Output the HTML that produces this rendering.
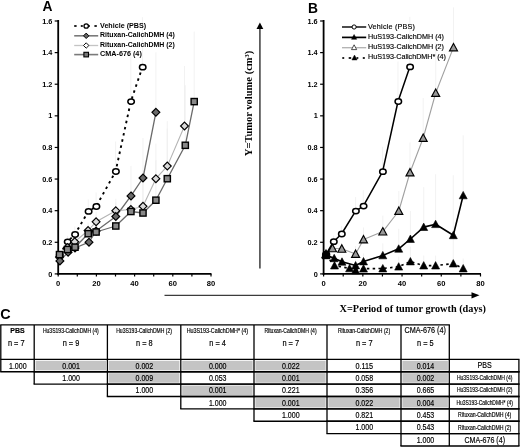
<!DOCTYPE html>
<html><head><meta charset="utf-8"><title>Tumor growth figure</title>
<style>
html,body{margin:0;padding:0;background:#fff;}
body{width:520px;height:447px;overflow:hidden;}
svg{display:block;}
</style></head><body>
<svg width="520" height="447" viewBox="0 0 520 447">
<rect width="520" height="447" fill="#fff"/>
<line x1="58.2" y1="20" x2="58.2" y2="274.8" stroke="#000" stroke-width="1.8"/>
<line x1="57.3" y1="273.9" x2="211.5" y2="273.9" stroke="#000" stroke-width="1.8"/>
<line x1="54.7" y1="273.9" x2="58.2" y2="273.9" stroke="#000" stroke-width="1.2"/>
<text x="52.3" y="276.5" font-family="'Liberation Sans', sans-serif" font-size="7.3" font-weight="bold" text-anchor="end" fill="#000">0</text>
<line x1="54.7" y1="242.29" x2="58.2" y2="242.29" stroke="#000" stroke-width="1.2"/>
<text x="52.3" y="244.89" font-family="'Liberation Sans', sans-serif" font-size="7.3" font-weight="bold" text-anchor="end" fill="#000">0.2</text>
<line x1="54.7" y1="210.67" x2="58.2" y2="210.67" stroke="#000" stroke-width="1.2"/>
<text x="52.3" y="213.27" font-family="'Liberation Sans', sans-serif" font-size="7.3" font-weight="bold" text-anchor="end" fill="#000">0.4</text>
<line x1="54.7" y1="179.06" x2="58.2" y2="179.06" stroke="#000" stroke-width="1.2"/>
<text x="52.3" y="181.66" font-family="'Liberation Sans', sans-serif" font-size="7.3" font-weight="bold" text-anchor="end" fill="#000">0.6</text>
<line x1="54.7" y1="147.45" x2="58.2" y2="147.45" stroke="#000" stroke-width="1.2"/>
<text x="52.3" y="150.05" font-family="'Liberation Sans', sans-serif" font-size="7.3" font-weight="bold" text-anchor="end" fill="#000">0.8</text>
<line x1="54.7" y1="115.84" x2="58.2" y2="115.84" stroke="#000" stroke-width="1.2"/>
<text x="52.3" y="118.44" font-family="'Liberation Sans', sans-serif" font-size="7.3" font-weight="bold" text-anchor="end" fill="#000">1</text>
<line x1="54.7" y1="84.22" x2="58.2" y2="84.22" stroke="#000" stroke-width="1.2"/>
<text x="52.3" y="86.82" font-family="'Liberation Sans', sans-serif" font-size="7.3" font-weight="bold" text-anchor="end" fill="#000">1.2</text>
<line x1="54.7" y1="52.61" x2="58.2" y2="52.61" stroke="#000" stroke-width="1.2"/>
<text x="52.3" y="55.21" font-family="'Liberation Sans', sans-serif" font-size="7.3" font-weight="bold" text-anchor="end" fill="#000">1.4</text>
<line x1="54.7" y1="21" x2="58.2" y2="21" stroke="#000" stroke-width="1.2"/>
<text x="52.3" y="23.6" font-family="'Liberation Sans', sans-serif" font-size="7.3" font-weight="bold" text-anchor="end" fill="#000">1.6</text>
<line x1="58.2" y1="273.9" x2="58.2" y2="276.5" stroke="#000" stroke-width="1.2"/>
<text x="58.2" y="286.4" font-family="'Liberation Sans', sans-serif" font-size="7.6" font-weight="bold" text-anchor="middle" fill="#000">0</text>
<line x1="77.3" y1="273.9" x2="77.3" y2="276.5" stroke="#000" stroke-width="1.2"/>
<line x1="96.4" y1="273.9" x2="96.4" y2="276.5" stroke="#000" stroke-width="1.2"/>
<text x="96.4" y="286.4" font-family="'Liberation Sans', sans-serif" font-size="7.6" font-weight="bold" text-anchor="middle" fill="#000">20</text>
<line x1="115.5" y1="273.9" x2="115.5" y2="276.5" stroke="#000" stroke-width="1.2"/>
<line x1="134.6" y1="273.9" x2="134.6" y2="276.5" stroke="#000" stroke-width="1.2"/>
<text x="134.6" y="286.4" font-family="'Liberation Sans', sans-serif" font-size="7.6" font-weight="bold" text-anchor="middle" fill="#000">40</text>
<line x1="153.7" y1="273.9" x2="153.7" y2="276.5" stroke="#000" stroke-width="1.2"/>
<line x1="172.8" y1="273.9" x2="172.8" y2="276.5" stroke="#000" stroke-width="1.2"/>
<text x="172.8" y="286.4" font-family="'Liberation Sans', sans-serif" font-size="7.6" font-weight="bold" text-anchor="middle" fill="#000">60</text>
<line x1="191.9" y1="273.9" x2="191.9" y2="276.5" stroke="#000" stroke-width="1.2"/>
<line x1="211" y1="273.9" x2="211" y2="276.5" stroke="#000" stroke-width="1.2"/>
<text x="211" y="286.4" font-family="'Liberation Sans', sans-serif" font-size="7.6" font-weight="bold" text-anchor="middle" fill="#000">80</text>
<line x1="323.6" y1="20" x2="323.6" y2="274.8" stroke="#000" stroke-width="1.8"/>
<line x1="322.7" y1="273.9" x2="481" y2="273.9" stroke="#000" stroke-width="1.8"/>
<line x1="320.1" y1="273.9" x2="323.6" y2="273.9" stroke="#000" stroke-width="1.2"/>
<text x="317.7" y="276.5" font-family="'Liberation Sans', sans-serif" font-size="7.3" font-weight="bold" text-anchor="end" fill="#000">0</text>
<line x1="320.1" y1="242.29" x2="323.6" y2="242.29" stroke="#000" stroke-width="1.2"/>
<text x="317.7" y="244.89" font-family="'Liberation Sans', sans-serif" font-size="7.3" font-weight="bold" text-anchor="end" fill="#000">0.2</text>
<line x1="320.1" y1="210.67" x2="323.6" y2="210.67" stroke="#000" stroke-width="1.2"/>
<text x="317.7" y="213.27" font-family="'Liberation Sans', sans-serif" font-size="7.3" font-weight="bold" text-anchor="end" fill="#000">0.4</text>
<line x1="320.1" y1="179.06" x2="323.6" y2="179.06" stroke="#000" stroke-width="1.2"/>
<text x="317.7" y="181.66" font-family="'Liberation Sans', sans-serif" font-size="7.3" font-weight="bold" text-anchor="end" fill="#000">0.6</text>
<line x1="320.1" y1="147.45" x2="323.6" y2="147.45" stroke="#000" stroke-width="1.2"/>
<text x="317.7" y="150.05" font-family="'Liberation Sans', sans-serif" font-size="7.3" font-weight="bold" text-anchor="end" fill="#000">0.8</text>
<line x1="320.1" y1="115.84" x2="323.6" y2="115.84" stroke="#000" stroke-width="1.2"/>
<text x="317.7" y="118.44" font-family="'Liberation Sans', sans-serif" font-size="7.3" font-weight="bold" text-anchor="end" fill="#000">1</text>
<line x1="320.1" y1="84.22" x2="323.6" y2="84.22" stroke="#000" stroke-width="1.2"/>
<text x="317.7" y="86.82" font-family="'Liberation Sans', sans-serif" font-size="7.3" font-weight="bold" text-anchor="end" fill="#000">1.2</text>
<line x1="320.1" y1="52.61" x2="323.6" y2="52.61" stroke="#000" stroke-width="1.2"/>
<text x="317.7" y="55.21" font-family="'Liberation Sans', sans-serif" font-size="7.3" font-weight="bold" text-anchor="end" fill="#000">1.4</text>
<line x1="320.1" y1="21" x2="323.6" y2="21" stroke="#000" stroke-width="1.2"/>
<text x="317.7" y="23.6" font-family="'Liberation Sans', sans-serif" font-size="7.3" font-weight="bold" text-anchor="end" fill="#000">1.6</text>
<line x1="323.6" y1="273.9" x2="323.6" y2="276.5" stroke="#000" stroke-width="1.2"/>
<text x="323.6" y="286.4" font-family="'Liberation Sans', sans-serif" font-size="7.6" font-weight="bold" text-anchor="middle" fill="#000">0</text>
<line x1="343.21" y1="273.9" x2="343.21" y2="276.5" stroke="#000" stroke-width="1.2"/>
<line x1="362.83" y1="273.9" x2="362.83" y2="276.5" stroke="#000" stroke-width="1.2"/>
<text x="362.83" y="286.4" font-family="'Liberation Sans', sans-serif" font-size="7.6" font-weight="bold" text-anchor="middle" fill="#000">20</text>
<line x1="382.44" y1="273.9" x2="382.44" y2="276.5" stroke="#000" stroke-width="1.2"/>
<line x1="402.05" y1="273.9" x2="402.05" y2="276.5" stroke="#000" stroke-width="1.2"/>
<text x="402.05" y="286.4" font-family="'Liberation Sans', sans-serif" font-size="7.6" font-weight="bold" text-anchor="middle" fill="#000">40</text>
<line x1="421.66" y1="273.9" x2="421.66" y2="276.5" stroke="#000" stroke-width="1.2"/>
<line x1="441.27" y1="273.9" x2="441.27" y2="276.5" stroke="#000" stroke-width="1.2"/>
<text x="441.27" y="286.4" font-family="'Liberation Sans', sans-serif" font-size="7.6" font-weight="bold" text-anchor="middle" fill="#000">60</text>
<line x1="460.89" y1="273.9" x2="460.89" y2="276.5" stroke="#000" stroke-width="1.2"/>
<line x1="480.5" y1="273.9" x2="480.5" y2="276.5" stroke="#000" stroke-width="1.2"/>
<text x="480.5" y="286.4" font-family="'Liberation Sans', sans-serif" font-size="7.6" font-weight="bold" text-anchor="middle" fill="#000">80</text>
<text x="42.6" y="10.5" font-family="'Liberation Sans', sans-serif" font-size="13.8" font-weight="bold" text-anchor="start" fill="#000">A</text>
<text x="308.1" y="13.1" font-family="'Liberation Sans', sans-serif" font-size="13.8" font-weight="bold" text-anchor="start" fill="#000">B</text>
<text x="0.2" y="319.2" font-family="'Liberation Sans', sans-serif" font-size="14.4" font-weight="bold" text-anchor="start" fill="#000">C</text>
<line x1="67.4" y1="241.8" x2="67.4" y2="235.8" stroke="#ededed" stroke-width="0.7"/>
<line x1="74.8" y1="234.5" x2="74.8" y2="226.5" stroke="#ededed" stroke-width="0.7"/>
<line x1="88.3" y1="211.4" x2="88.3" y2="199.4" stroke="#ededed" stroke-width="0.7"/>
<line x1="96.1" y1="206.5" x2="96.1" y2="192.5" stroke="#ededed" stroke-width="0.7"/>
<line x1="115.6" y1="171.5" x2="115.6" y2="141.5" stroke="#ededed" stroke-width="0.7"/>
<line x1="130.8" y1="101.6" x2="130.8" y2="56.6" stroke="#ededed" stroke-width="0.7"/>
<line x1="142.4" y1="67.2" x2="142.4" y2="17.2" stroke="#ededed" stroke-width="0.7"/>
<line x1="68.1" y1="252.2" x2="68.1" y2="248.2" stroke="#ededed" stroke-width="0.7"/>
<line x1="75" y1="248" x2="75" y2="244" stroke="#ededed" stroke-width="0.7"/>
<line x1="89" y1="242.2" x2="89" y2="234.2" stroke="#ededed" stroke-width="0.7"/>
<line x1="96.1" y1="231" x2="96.1" y2="221" stroke="#ededed" stroke-width="0.7"/>
<line x1="115.8" y1="216.5" x2="115.8" y2="202.5" stroke="#ededed" stroke-width="0.7"/>
<line x1="131" y1="195.9" x2="131" y2="165.9" stroke="#ededed" stroke-width="0.7"/>
<line x1="143" y1="178" x2="143" y2="138" stroke="#ededed" stroke-width="0.7"/>
<line x1="155.9" y1="112.3" x2="155.9" y2="52.3" stroke="#ededed" stroke-width="0.7"/>
<line x1="67.5" y1="247.5" x2="67.5" y2="243.5" stroke="#ededed" stroke-width="0.7"/>
<line x1="74.7" y1="241.8" x2="74.7" y2="236.8" stroke="#ededed" stroke-width="0.7"/>
<line x1="88.1" y1="230.5" x2="88.1" y2="222.5" stroke="#ededed" stroke-width="0.7"/>
<line x1="96.1" y1="221.8" x2="96.1" y2="211.8" stroke="#ededed" stroke-width="0.7"/>
<line x1="115.8" y1="210.7" x2="115.8" y2="198.7" stroke="#ededed" stroke-width="0.7"/>
<line x1="130.9" y1="209.5" x2="130.9" y2="195.5" stroke="#ededed" stroke-width="0.7"/>
<line x1="143" y1="206.3" x2="143" y2="176.3" stroke="#ededed" stroke-width="0.7"/>
<line x1="155.9" y1="178.7" x2="155.9" y2="143.7" stroke="#ededed" stroke-width="0.7"/>
<line x1="167.3" y1="166.1" x2="167.3" y2="121.1" stroke="#ededed" stroke-width="0.7"/>
<line x1="184.5" y1="126" x2="184.5" y2="66" stroke="#ededed" stroke-width="0.7"/>
<line x1="67.5" y1="249.5" x2="67.5" y2="245.5" stroke="#ededed" stroke-width="0.7"/>
<line x1="75" y1="247.2" x2="75" y2="242.2" stroke="#ededed" stroke-width="0.7"/>
<line x1="88.2" y1="233.7" x2="88.2" y2="225.7" stroke="#ededed" stroke-width="0.7"/>
<line x1="96.1" y1="232" x2="96.1" y2="222" stroke="#ededed" stroke-width="0.7"/>
<line x1="115.8" y1="226" x2="115.8" y2="214" stroke="#ededed" stroke-width="0.7"/>
<line x1="130.9" y1="211.5" x2="130.9" y2="191.5" stroke="#ededed" stroke-width="0.7"/>
<line x1="143" y1="213" x2="143" y2="183" stroke="#ededed" stroke-width="0.7"/>
<line x1="155.9" y1="200.2" x2="155.9" y2="160.2" stroke="#ededed" stroke-width="0.7"/>
<line x1="167.3" y1="178.7" x2="167.3" y2="128.7" stroke="#ededed" stroke-width="0.7"/>
<line x1="185.3" y1="145.3" x2="185.3" y2="85.3" stroke="#ededed" stroke-width="0.7"/>
<line x1="194.2" y1="101.6" x2="194.2" y2="31.6" stroke="#ededed" stroke-width="0.7"/>
<polyline points="59.5,255 67.4,241.8 74.8,234.5 88.3,211.4 96.1,206.5 115.6,171.5 130.8,101.6 142.4,67.2" fill="none" stroke="#000" stroke-width="1.9" stroke-dasharray="2.5 3.8" stroke-linejoin="round" stroke-linecap="butt"/>
<polyline points="59.9,260.9 68.1,252.2 75,248 89,242.2 96.1,231 115.8,216.5 131,195.9 143,178 155.9,112.3" fill="none" stroke="#6a6a6a" stroke-width="1.3" stroke-linejoin="round"/>
<polyline points="59.5,257 67.5,247.5 74.7,241.8 88.1,230.5 96.1,221.8 115.8,210.7 130.9,209.5 143,206.3 155.9,178.7 167.3,166.1 184.5,126" fill="none" stroke="#b4b4b4" stroke-width="1.1" stroke-linejoin="round"/>
<polyline points="59.5,254.6 67.5,249.5 75,247.2 88.2,233.7 96.1,232 115.8,226 130.9,211.5 143,213 155.9,200.2 167.3,178.7 185.3,145.3 194.2,101.6" fill="none" stroke="#6a6a6a" stroke-width="1.3" stroke-linejoin="round"/>
<ellipse cx="59.8" cy="255" rx="3.25" ry="2.65" fill="#fff" stroke="#000" stroke-width="1.5"/>
<ellipse cx="67.7" cy="241.8" rx="3.25" ry="2.65" fill="#fff" stroke="#000" stroke-width="1.5"/>
<ellipse cx="75.1" cy="234.5" rx="3.25" ry="2.65" fill="#fff" stroke="#000" stroke-width="1.5"/>
<ellipse cx="88.6" cy="211.4" rx="3.25" ry="2.65" fill="#fff" stroke="#000" stroke-width="1.5"/>
<ellipse cx="96.4" cy="206.5" rx="3.25" ry="2.65" fill="#fff" stroke="#000" stroke-width="1.5"/>
<ellipse cx="115.9" cy="171.5" rx="3.25" ry="2.65" fill="#fff" stroke="#000" stroke-width="1.5"/>
<ellipse cx="131.1" cy="101.6" rx="3.25" ry="2.65" fill="#fff" stroke="#000" stroke-width="1.5"/>
<ellipse cx="142.7" cy="67.2" rx="3.25" ry="2.65" fill="#fff" stroke="#000" stroke-width="1.5"/>
<polygon points="59.5,253.1 63.4,257 59.5,260.9 55.6,257" fill="#dadada" stroke="#000" stroke-width="1.2"/>
<polygon points="67.5,243.6 71.4,247.5 67.5,251.4 63.6,247.5" fill="#dadada" stroke="#000" stroke-width="1.2"/>
<polygon points="74.7,237.9 78.6,241.8 74.7,245.7 70.8,241.8" fill="#dadada" stroke="#000" stroke-width="1.2"/>
<polygon points="88.1,226.6 92,230.5 88.1,234.4 84.2,230.5" fill="#dadada" stroke="#000" stroke-width="1.2"/>
<polygon points="96.1,217.9 100,221.8 96.1,225.7 92.2,221.8" fill="#dadada" stroke="#000" stroke-width="1.2"/>
<polygon points="115.8,206.8 119.7,210.7 115.8,214.6 111.9,210.7" fill="#dadada" stroke="#000" stroke-width="1.2"/>
<polygon points="130.9,205.6 134.8,209.5 130.9,213.4 127,209.5" fill="#dadada" stroke="#000" stroke-width="1.2"/>
<polygon points="143,202.4 146.9,206.3 143,210.2 139.1,206.3" fill="#dadada" stroke="#000" stroke-width="1.2"/>
<polygon points="155.9,174.8 159.8,178.7 155.9,182.6 152,178.7" fill="#dadada" stroke="#000" stroke-width="1.2"/>
<polygon points="167.3,162.2 171.2,166.1 167.3,170 163.4,166.1" fill="#dadada" stroke="#000" stroke-width="1.2"/>
<polygon points="184.5,122.1 188.4,126 184.5,129.9 180.6,126" fill="#dadada" stroke="#000" stroke-width="1.2"/>
<polygon points="59.9,257 63.8,260.9 59.9,264.8 56,260.9" fill="#6a6a6a" stroke="#000" stroke-width="1.2"/>
<polygon points="68.1,248.3 72,252.2 68.1,256.1 64.2,252.2" fill="#6a6a6a" stroke="#000" stroke-width="1.2"/>
<polygon points="75,244.1 78.9,248 75,251.9 71.1,248" fill="#6a6a6a" stroke="#000" stroke-width="1.2"/>
<polygon points="89,238.3 92.9,242.2 89,246.1 85.1,242.2" fill="#6a6a6a" stroke="#000" stroke-width="1.2"/>
<polygon points="96.1,227.1 100,231 96.1,234.9 92.2,231" fill="#6a6a6a" stroke="#000" stroke-width="1.2"/>
<polygon points="115.8,212.6 119.7,216.5 115.8,220.4 111.9,216.5" fill="#6a6a6a" stroke="#000" stroke-width="1.2"/>
<polygon points="131,192 134.9,195.9 131,199.8 127.1,195.9" fill="#6a6a6a" stroke="#000" stroke-width="1.2"/>
<polygon points="143,174.1 146.9,178 143,181.9 139.1,178" fill="#6a6a6a" stroke="#000" stroke-width="1.2"/>
<polygon points="155.9,108.4 159.8,112.3 155.9,116.2 152,112.3" fill="#6a6a6a" stroke="#000" stroke-width="1.2"/>
<rect x="56.4" y="251.5" width="6.2" height="6.2" fill="#888" stroke="#000" stroke-width="1.4"/>
<rect x="64.4" y="246.4" width="6.2" height="6.2" fill="#888" stroke="#000" stroke-width="1.4"/>
<rect x="71.9" y="244.1" width="6.2" height="6.2" fill="#888" stroke="#000" stroke-width="1.4"/>
<rect x="85.1" y="230.6" width="6.2" height="6.2" fill="#888" stroke="#000" stroke-width="1.4"/>
<rect x="93" y="228.9" width="6.2" height="6.2" fill="#888" stroke="#000" stroke-width="1.4"/>
<rect x="112.7" y="222.9" width="6.2" height="6.2" fill="#888" stroke="#000" stroke-width="1.4"/>
<rect x="127.8" y="208.4" width="6.2" height="6.2" fill="#888" stroke="#000" stroke-width="1.4"/>
<rect x="139.9" y="209.9" width="6.2" height="6.2" fill="#888" stroke="#000" stroke-width="1.4"/>
<rect x="152.8" y="197.1" width="6.2" height="6.2" fill="#888" stroke="#000" stroke-width="1.4"/>
<rect x="164.2" y="175.6" width="6.2" height="6.2" fill="#888" stroke="#000" stroke-width="1.4"/>
<rect x="182.2" y="142.2" width="6.2" height="6.2" fill="#888" stroke="#000" stroke-width="1.4"/>
<rect x="191.1" y="98.5" width="6.2" height="6.2" fill="#888" stroke="#000" stroke-width="1.4"/>
<line x1="74.2" y1="26" x2="76.6" y2="26" stroke="#000" stroke-width="1.7"/>
<line x1="80.8" y1="26" x2="82.8" y2="26" stroke="#000" stroke-width="1.7"/>
<line x1="88.2" y1="26" x2="90" y2="26" stroke="#000" stroke-width="1.7"/>
<line x1="94.4" y1="26" x2="96.8" y2="26" stroke="#000" stroke-width="1.7"/>
<circle cx="86.2" cy="26" r="2.2" fill="#fff" stroke="#000" stroke-width="1.3"/>
<line x1="74.2" y1="35.8" x2="98.2" y2="35.8" stroke="#7a7a7a" stroke-width="1.6"/>
<polygon points="86.2,33.1 88.9,35.8 86.2,38.5 83.5,35.8" fill="#666" stroke="#000" stroke-width="1.0"/>
<line x1="74.2" y1="45.5" x2="98.2" y2="45.5" stroke="#c4c4c4" stroke-width="1.3"/>
<polygon points="86.2,42.8 88.9,45.5 86.2,48.2 83.5,45.5" fill="#fff" stroke="#111" stroke-width="1.0"/>
<line x1="74.2" y1="54.6" x2="98.2" y2="54.6" stroke="#7a7a7a" stroke-width="1.6"/>
<rect x="83.9" y="52.3" width="4.6" height="4.6" fill="#777" stroke="#000" stroke-width="1.1"/>
<text x="100" y="28.4" font-family="'Liberation Sans', sans-serif" font-size="7.1" font-weight="bold" text-anchor="start" fill="#000" textLength="46.2" lengthAdjust="spacingAndGlyphs">Vehicle (PBS)</text>
<text x="100" y="36.9" font-family="'Liberation Sans', sans-serif" font-size="7.1" font-weight="bold" text-anchor="start" fill="#000" textLength="74.8" lengthAdjust="spacingAndGlyphs">Rituxan-CalichDMH (4)</text>
<text x="100" y="46.5" font-family="'Liberation Sans', sans-serif" font-size="7.1" font-weight="bold" text-anchor="start" fill="#000" textLength="74.8" lengthAdjust="spacingAndGlyphs">Rituxan-CalichDMH (2)</text>
<text x="100" y="56.4" font-family="'Liberation Sans', sans-serif" font-size="7.1" font-weight="bold" text-anchor="start" fill="#000" textLength="41.8" lengthAdjust="spacingAndGlyphs">CMA-676 (4)</text>
<line x1="333.5" y1="241.7" x2="333.5" y2="235.7" stroke="#ededed" stroke-width="0.7"/>
<line x1="341.5" y1="234" x2="341.5" y2="226" stroke="#ededed" stroke-width="0.7"/>
<line x1="355.6" y1="211.1" x2="355.6" y2="197.1" stroke="#ededed" stroke-width="0.7"/>
<line x1="363.3" y1="206.1" x2="363.3" y2="190.1" stroke="#ededed" stroke-width="0.7"/>
<line x1="382.6" y1="171.7" x2="382.6" y2="146.7" stroke="#ededed" stroke-width="0.7"/>
<line x1="398" y1="101.5" x2="398" y2="61.5" stroke="#ededed" stroke-width="0.7"/>
<line x1="409.8" y1="66.9" x2="409.8" y2="16.9" stroke="#ededed" stroke-width="0.7"/>
<line x1="332.5" y1="248.3" x2="332.5" y2="244.3" stroke="#ededed" stroke-width="0.7"/>
<line x1="341.8" y1="248.8" x2="341.8" y2="243.8" stroke="#ededed" stroke-width="0.7"/>
<line x1="355.6" y1="254" x2="355.6" y2="246" stroke="#ededed" stroke-width="0.7"/>
<line x1="363.5" y1="239.5" x2="363.5" y2="227.5" stroke="#ededed" stroke-width="0.7"/>
<line x1="382.8" y1="231.6" x2="382.8" y2="215.6" stroke="#ededed" stroke-width="0.7"/>
<line x1="398.8" y1="211" x2="398.8" y2="191" stroke="#ededed" stroke-width="0.7"/>
<line x1="410" y1="172.5" x2="410" y2="142.5" stroke="#ededed" stroke-width="0.7"/>
<line x1="423.2" y1="138" x2="423.2" y2="98" stroke="#ededed" stroke-width="0.7"/>
<line x1="435.7" y1="93" x2="435.7" y2="43" stroke="#ededed" stroke-width="0.7"/>
<line x1="453.5" y1="47.4" x2="453.5" y2="7.4" stroke="#ededed" stroke-width="0.7"/>
<line x1="334.2" y1="258.3" x2="334.2" y2="254.3" stroke="#ededed" stroke-width="0.7"/>
<line x1="342" y1="261.8" x2="342" y2="257.8" stroke="#ededed" stroke-width="0.7"/>
<line x1="355.6" y1="265.5" x2="355.6" y2="259.5" stroke="#ededed" stroke-width="0.7"/>
<line x1="363.5" y1="261.5" x2="363.5" y2="253.5" stroke="#ededed" stroke-width="0.7"/>
<line x1="382.8" y1="255.4" x2="382.8" y2="243.4" stroke="#ededed" stroke-width="0.7"/>
<line x1="398.7" y1="248.8" x2="398.7" y2="228.8" stroke="#ededed" stroke-width="0.7"/>
<line x1="410.4" y1="239" x2="410.4" y2="211" stroke="#ededed" stroke-width="0.7"/>
<line x1="423.7" y1="227.1" x2="423.7" y2="187.1" stroke="#ededed" stroke-width="0.7"/>
<line x1="435.6" y1="224.2" x2="435.6" y2="174.2" stroke="#ededed" stroke-width="0.7"/>
<line x1="453.3" y1="235.3" x2="453.3" y2="175.3" stroke="#ededed" stroke-width="0.7"/>
<line x1="463.2" y1="195.4" x2="463.2" y2="135.4" stroke="#ededed" stroke-width="0.7"/>
<line x1="363.5" y1="268.7" x2="363.5" y2="264.7" stroke="#ededed" stroke-width="0.7"/>
<line x1="382.8" y1="268.5" x2="382.8" y2="264.5" stroke="#ededed" stroke-width="0.7"/>
<line x1="398.7" y1="266.7" x2="398.7" y2="256.7" stroke="#ededed" stroke-width="0.7"/>
<line x1="410.4" y1="261.5" x2="410.4" y2="246.5" stroke="#ededed" stroke-width="0.7"/>
<line x1="423.7" y1="265.6" x2="423.7" y2="255.6" stroke="#ededed" stroke-width="0.7"/>
<line x1="435.6" y1="265.6" x2="435.6" y2="255.6" stroke="#ededed" stroke-width="0.7"/>
<line x1="453.3" y1="263.6" x2="453.3" y2="238.6" stroke="#ededed" stroke-width="0.7"/>
<line x1="463.2" y1="268.5" x2="463.2" y2="258.5" stroke="#ededed" stroke-width="0.7"/>
<polyline points="326,254 332.5,248.3 341.8,248.8 355.6,254 363.5,239.5 382.8,231.6 398.8,211 410,172.5 423.2,138 435.7,93 453.5,47.4" fill="none" stroke="#a0a0a0" stroke-width="1.1" stroke-linejoin="round"/>
<polyline points="326,254.5 333.5,241.7 341.5,234 355.6,211.1 363.3,206.1 382.6,171.7 398,101.5 409.8,66.9" fill="none" stroke="#000" stroke-width="1.5" stroke-linejoin="round"/>
<polyline points="326,255.4 334.5,265.6 349.6,268.4 355.6,270.4 363.5,268.7 382.8,268.5 398.7,266.7 410.4,261.5 423.7,265.6 435.6,265.6 453.3,263.6 463.2,268.5" fill="none" stroke="#000" stroke-width="1.6" stroke-dasharray="2.5 3.3" stroke-linejoin="round"/>
<polyline points="326,255 334.2,258.3 342,261.8 355.6,265.5 363.5,261.5 382.8,255.4 398.7,248.8 410.4,239 423.7,227.1 435.6,224.2 453.3,235.3 463.2,195.4" fill="none" stroke="#000" stroke-width="1.6" stroke-linejoin="round"/>
<ellipse cx="326.3" cy="254.5" rx="3.25" ry="2.65" fill="#fff" stroke="#000" stroke-width="1.5"/>
<ellipse cx="333.8" cy="241.7" rx="3.25" ry="2.65" fill="#fff" stroke="#000" stroke-width="1.5"/>
<ellipse cx="341.8" cy="234" rx="3.25" ry="2.65" fill="#fff" stroke="#000" stroke-width="1.5"/>
<ellipse cx="355.9" cy="211.1" rx="3.25" ry="2.65" fill="#fff" stroke="#000" stroke-width="1.5"/>
<ellipse cx="363.6" cy="206.1" rx="3.25" ry="2.65" fill="#fff" stroke="#000" stroke-width="1.5"/>
<ellipse cx="382.9" cy="171.7" rx="3.25" ry="2.65" fill="#fff" stroke="#000" stroke-width="1.5"/>
<ellipse cx="398.3" cy="101.5" rx="3.25" ry="2.65" fill="#fff" stroke="#000" stroke-width="1.5"/>
<ellipse cx="410.1" cy="66.9" rx="3.25" ry="2.65" fill="#fff" stroke="#000" stroke-width="1.5"/>
<polygon points="326,250 330,257.4 322,257.4" fill="#999" stroke="#000" stroke-width="1.15" stroke-linejoin="miter"/>
<polygon points="332.5,244.3 336.5,251.7 328.5,251.7" fill="#999" stroke="#000" stroke-width="1.15" stroke-linejoin="miter"/>
<polygon points="341.8,244.8 345.8,252.2 337.8,252.2" fill="#999" stroke="#000" stroke-width="1.15" stroke-linejoin="miter"/>
<polygon points="355.6,250 359.6,257.4 351.6,257.4" fill="#999" stroke="#000" stroke-width="1.15" stroke-linejoin="miter"/>
<polygon points="363.5,235.5 367.5,242.9 359.5,242.9" fill="#999" stroke="#000" stroke-width="1.15" stroke-linejoin="miter"/>
<polygon points="382.8,227.6 386.8,235 378.8,235" fill="#999" stroke="#000" stroke-width="1.15" stroke-linejoin="miter"/>
<polygon points="398.8,207 402.8,214.4 394.8,214.4" fill="#999" stroke="#000" stroke-width="1.15" stroke-linejoin="miter"/>
<polygon points="410,168.5 414,175.9 406,175.9" fill="#999" stroke="#000" stroke-width="1.15" stroke-linejoin="miter"/>
<polygon points="423.2,134 427.2,141.4 419.2,141.4" fill="#999" stroke="#000" stroke-width="1.15" stroke-linejoin="miter"/>
<polygon points="435.7,89 439.7,96.4 431.7,96.4" fill="#999" stroke="#000" stroke-width="1.15" stroke-linejoin="miter"/>
<polygon points="453.5,43.4 457.5,50.8 449.5,50.8" fill="#999" stroke="#000" stroke-width="1.15" stroke-linejoin="miter"/>
<polygon points="326,251 330,258.4 322,258.4" fill="#000" stroke="#000" stroke-width="0.6" stroke-linejoin="miter"/>
<polygon points="334.2,254.3 338.2,261.7 330.2,261.7" fill="#000" stroke="#000" stroke-width="0.6" stroke-linejoin="miter"/>
<polygon points="342,257.8 346,265.2 338,265.2" fill="#000" stroke="#000" stroke-width="0.6" stroke-linejoin="miter"/>
<polygon points="355.6,261.5 359.6,268.9 351.6,268.9" fill="#000" stroke="#000" stroke-width="0.6" stroke-linejoin="miter"/>
<polygon points="363.5,257.5 367.5,264.9 359.5,264.9" fill="#000" stroke="#000" stroke-width="0.6" stroke-linejoin="miter"/>
<polygon points="382.8,251.4 386.8,258.8 378.8,258.8" fill="#000" stroke="#000" stroke-width="0.6" stroke-linejoin="miter"/>
<polygon points="398.7,244.8 402.7,252.2 394.7,252.2" fill="#000" stroke="#000" stroke-width="0.6" stroke-linejoin="miter"/>
<polygon points="410.4,235 414.4,242.4 406.4,242.4" fill="#000" stroke="#000" stroke-width="0.6" stroke-linejoin="miter"/>
<polygon points="423.7,223.1 427.7,230.5 419.7,230.5" fill="#000" stroke="#000" stroke-width="0.6" stroke-linejoin="miter"/>
<polygon points="435.6,220.2 439.6,227.6 431.6,227.6" fill="#000" stroke="#000" stroke-width="0.6" stroke-linejoin="miter"/>
<polygon points="453.3,231.3 457.3,238.7 449.3,238.7" fill="#000" stroke="#000" stroke-width="0.6" stroke-linejoin="miter"/>
<polygon points="463.2,191.4 467.2,198.8 459.2,198.8" fill="#000" stroke="#000" stroke-width="0.6" stroke-linejoin="miter"/>
<polygon points="326,251.4 330,258.8 322,258.8" fill="#000" stroke="#000" stroke-width="0.6" stroke-linejoin="miter"/>
<polygon points="334.5,261.6 338.5,269 330.5,269" fill="#000" stroke="#000" stroke-width="0.6" stroke-linejoin="miter"/>
<polygon points="349.6,264.4 353.6,271.8 345.6,271.8" fill="#000" stroke="#000" stroke-width="0.6" stroke-linejoin="miter"/>
<polygon points="355.6,266.4 359.6,273.8 351.6,273.8" fill="#000" stroke="#000" stroke-width="0.6" stroke-linejoin="miter"/>
<polygon points="363.5,264.7 367.5,272.1 359.5,272.1" fill="#000" stroke="#000" stroke-width="0.6" stroke-linejoin="miter"/>
<polygon points="382.8,264.5 386.8,271.9 378.8,271.9" fill="#000" stroke="#000" stroke-width="0.6" stroke-linejoin="miter"/>
<polygon points="398.7,262.7 402.7,270.1 394.7,270.1" fill="#000" stroke="#000" stroke-width="0.6" stroke-linejoin="miter"/>
<polygon points="410.4,257.5 414.4,264.9 406.4,264.9" fill="#000" stroke="#000" stroke-width="0.6" stroke-linejoin="miter"/>
<polygon points="423.7,261.6 427.7,269 419.7,269" fill="#000" stroke="#000" stroke-width="0.6" stroke-linejoin="miter"/>
<polygon points="435.6,261.6 439.6,269 431.6,269" fill="#000" stroke="#000" stroke-width="0.6" stroke-linejoin="miter"/>
<polygon points="453.3,259.6 457.3,267 449.3,267" fill="#000" stroke="#000" stroke-width="0.6" stroke-linejoin="miter"/>
<polygon points="463.2,264.5 467.2,271.9 459.2,271.9" fill="#000" stroke="#000" stroke-width="0.6" stroke-linejoin="miter"/>
<circle cx="326" cy="255" r="3.7" fill="#000" stroke="#000" stroke-width="0.8"/>
<line x1="342" y1="27" x2="366.2" y2="27" stroke="#000" stroke-width="1.4"/>
<circle cx="354.1" cy="27" r="2.1" fill="#fff" stroke="#000" stroke-width="1.0"/>
<line x1="342" y1="37.4" x2="366.2" y2="37.4" stroke="#000" stroke-width="1.7"/>
<polygon points="354.1,34.5 356.7,39.31 351.5,39.31" fill="#000" stroke="#000" stroke-width="0.5" stroke-linejoin="miter"/>
<line x1="342" y1="47.7" x2="366.2" y2="47.7" stroke="#b0b0b0" stroke-width="1.3"/>
<polygon points="354.1,44.8 356.7,49.61 351.5,49.61" fill="#fff" stroke="#222" stroke-width="0.8" stroke-linejoin="miter"/>
<line x1="342.3" y1="58" x2="344.2" y2="58" stroke="#000" stroke-width="1.7"/>
<line x1="348.7" y1="58" x2="351.2" y2="58" stroke="#000" stroke-width="1.7"/>
<line x1="356.5" y1="58" x2="358.3" y2="58" stroke="#000" stroke-width="1.7"/>
<line x1="362.8" y1="58" x2="364.8" y2="58" stroke="#000" stroke-width="1.7"/>
<polygon points="354.5,55.1 357.1,59.91 351.9,59.91" fill="#000" stroke="#000" stroke-width="0.5" stroke-linejoin="miter"/>
<text x="368" y="28.9" font-family="'Liberation Sans', sans-serif" font-size="7.2" font-weight="normal" text-anchor="start" fill="#000" stroke="#000" stroke-width="0.15" textLength="47" lengthAdjust="spacing">Vehicle (PBS)</text>
<text x="368" y="38.8" font-family="'Liberation Sans', sans-serif" font-size="7.2" font-weight="normal" text-anchor="start" fill="#000" stroke="#000" stroke-width="0.15" textLength="76" lengthAdjust="spacing">HuS193-CalichDMH (4)</text>
<text x="368" y="49.1" font-family="'Liberation Sans', sans-serif" font-size="7.2" font-weight="normal" text-anchor="start" fill="#000" stroke="#000" stroke-width="0.15" textLength="76" lengthAdjust="spacing">HuS193-CalichDMH (2)</text>
<text x="368" y="59.3" font-family="'Liberation Sans', sans-serif" font-size="7.2" font-weight="normal" text-anchor="start" fill="#000" stroke="#000" stroke-width="0.15" textLength="78" lengthAdjust="spacing">HuS193-CalichDMH* (4)</text>
<line x1="259.9" y1="28" x2="259.9" y2="268.5" stroke="#5c5c5c" stroke-width="1.8"/>
<polygon points="259.9,22.6 263.3,29 256.5,29" fill="#000"/>
<line x1="164.5" y1="295.3" x2="473" y2="295.3" stroke="#3c3c3c" stroke-width="1.3"/>
<polygon points="479.5,295.3 471.5,292.2 471.5,298.4" fill="#000"/>
<text x="0" y="0" font-family="'Liberation Serif', serif" font-size="10.5" font-weight="bold" text-anchor="middle" fill="#000" transform="translate(252.4,103.5) rotate(-90)">Y=Tumor volume (cm<tspan font-size="6.3" dy="-3.7">3</tspan><tspan dy="3.7">)</tspan></text>
<text x="339.6" y="312.4" font-family="'Liberation Serif', serif" font-size="10.3" font-weight="bold" text-anchor="start" fill="#000" textLength="146.4" lengthAdjust="spacingAndGlyphs">X=Period of tumor growth (days)</text>
<rect x="35.6" y="360.8" width="70.4" height="9.57" fill="#c4c4c4"/>
<rect x="108.8" y="360.8" width="70.6" height="9.57" fill="#c4c4c4"/>
<rect x="182.2" y="360.8" width="70.4" height="9.57" fill="#c4c4c4"/>
<rect x="255.4" y="360.8" width="70.2" height="9.57" fill="#c4c4c4"/>
<rect x="402.4" y="360.8" width="45.5" height="9.57" fill="#c4c4c4"/>
<rect x="108.8" y="373.17" width="70.6" height="9.57" fill="#c4c4c4"/>
<rect x="255.4" y="373.17" width="70.2" height="9.57" fill="#c4c4c4"/>
<rect x="402.4" y="373.17" width="45.5" height="9.57" fill="#c4c4c4"/>
<rect x="182.2" y="385.54" width="70.4" height="9.57" fill="#c4c4c4"/>
<rect x="255.4" y="397.91" width="70.2" height="9.57" fill="#c4c4c4"/>
<rect x="328.4" y="397.91" width="71.2" height="9.57" fill="#c4c4c4"/>
<rect x="402.4" y="397.91" width="45.5" height="9.57" fill="#c4c4c4"/>
<text x="17.5" y="332.8" font-family="'Liberation Sans', sans-serif" font-size="7.8" font-weight="bold" text-anchor="middle" textLength="14.4" lengthAdjust="spacingAndGlyphs" stroke="#000" stroke-width="0.18">PBS</text>
<text x="16.2" y="345.8" font-family="'Liberation Sans', sans-serif" font-size="8.3" font-weight="normal" text-anchor="middle" textLength="16.6" lengthAdjust="spacingAndGlyphs" stroke="#000" stroke-width="0.18">n = 7</text>
<text x="70.8" y="332.9" font-family="'Liberation Sans', sans-serif" font-size="6.8" font-weight="normal" text-anchor="middle" textLength="55.8" lengthAdjust="spacingAndGlyphs" stroke="#000" stroke-width="0.18">Hu3S193-CalichDMH (4)</text>
<text x="71" y="345.8" font-family="'Liberation Sans', sans-serif" font-size="8.3" font-weight="normal" text-anchor="middle" textLength="16.6" lengthAdjust="spacingAndGlyphs" stroke="#000" stroke-width="0.18">n = 9</text>
<text x="144.1" y="332.9" font-family="'Liberation Sans', sans-serif" font-size="6.8" font-weight="normal" text-anchor="middle" textLength="55.8" lengthAdjust="spacingAndGlyphs" stroke="#000" stroke-width="0.18">Hu3S193-CalichDMH (2)</text>
<text x="144.3" y="345.8" font-family="'Liberation Sans', sans-serif" font-size="8.3" font-weight="normal" text-anchor="middle" textLength="16.6" lengthAdjust="spacingAndGlyphs" stroke="#000" stroke-width="0.18">n = 8</text>
<text x="217.4" y="332.9" font-family="'Liberation Sans', sans-serif" font-size="6.8" font-weight="normal" text-anchor="middle" textLength="61.5" lengthAdjust="spacingAndGlyphs" stroke="#000" stroke-width="0.18">Hu3S193-CalichDMH* (4)</text>
<text x="217.6" y="345.8" font-family="'Liberation Sans', sans-serif" font-size="8.3" font-weight="normal" text-anchor="middle" textLength="16.6" lengthAdjust="spacingAndGlyphs" stroke="#000" stroke-width="0.18">n = 4</text>
<text x="290.5" y="332.9" font-family="'Liberation Sans', sans-serif" font-size="6.8" font-weight="normal" text-anchor="middle" textLength="52.2" lengthAdjust="spacingAndGlyphs" stroke="#000" stroke-width="0.18">Rituxan-CalichDMH (4)</text>
<text x="290.7" y="345.8" font-family="'Liberation Sans', sans-serif" font-size="8.3" font-weight="normal" text-anchor="middle" textLength="16.6" lengthAdjust="spacingAndGlyphs" stroke="#000" stroke-width="0.18">n = 7</text>
<text x="364" y="332.9" font-family="'Liberation Sans', sans-serif" font-size="6.8" font-weight="normal" text-anchor="middle" textLength="52.2" lengthAdjust="spacingAndGlyphs" stroke="#000" stroke-width="0.18">Rituxan-CalichDMH (2)</text>
<text x="364.2" y="345.8" font-family="'Liberation Sans', sans-serif" font-size="8.3" font-weight="normal" text-anchor="middle" textLength="16.6" lengthAdjust="spacingAndGlyphs" stroke="#000" stroke-width="0.18">n = 7</text>
<text x="425.15" y="333.3" font-family="'Liberation Sans', sans-serif" font-size="8.4" font-weight="normal" text-anchor="middle" textLength="41.4" lengthAdjust="spacingAndGlyphs" stroke="#000" stroke-width="0.18">CMA-676 (4)</text>
<text x="425.35" y="345.8" font-family="'Liberation Sans', sans-serif" font-size="8.3" font-weight="normal" text-anchor="middle" textLength="16.6" lengthAdjust="spacingAndGlyphs" stroke="#000" stroke-width="0.18">n = 5</text>
<path d="M0.8,359.4 V324.9" fill="none" stroke="#000" stroke-width="1.3"/>
<line x1="0.2" y1="324.9" x2="449.9" y2="324.9" stroke="#000" stroke-width="1.3"/>
<line x1="34.2" y1="324.9" x2="34.2" y2="359.4" stroke="#000" stroke-width="1.3"/>
<line x1="107.4" y1="324.9" x2="107.4" y2="359.4" stroke="#000" stroke-width="1.3"/>
<line x1="180.8" y1="324.9" x2="180.8" y2="359.4" stroke="#000" stroke-width="1.3"/>
<line x1="254" y1="324.9" x2="254" y2="359.4" stroke="#000" stroke-width="1.3"/>
<line x1="327" y1="324.9" x2="327" y2="359.4" stroke="#000" stroke-width="1.3"/>
<line x1="401" y1="324.9" x2="401" y2="359.4" stroke="#000" stroke-width="1.3"/>
<line x1="449.3" y1="324.9" x2="449.3" y2="359.4" stroke="#000" stroke-width="1.3"/>
<line x1="0.2" y1="359.4" x2="519.5" y2="359.4" stroke="#000" stroke-width="1.3"/>
<line x1="0.2" y1="371.77" x2="519.5" y2="371.77" stroke="#000" stroke-width="1.3"/>
<line x1="0.8" y1="359.4" x2="0.8" y2="371.77" stroke="#000" stroke-width="1.3"/>
<line x1="34.2" y1="359.4" x2="34.2" y2="371.77" stroke="#000" stroke-width="1.3"/>
<line x1="107.4" y1="359.4" x2="107.4" y2="371.77" stroke="#000" stroke-width="1.3"/>
<line x1="180.8" y1="359.4" x2="180.8" y2="371.77" stroke="#000" stroke-width="1.3"/>
<line x1="254" y1="359.4" x2="254" y2="371.77" stroke="#000" stroke-width="1.3"/>
<line x1="327" y1="359.4" x2="327" y2="371.77" stroke="#000" stroke-width="1.3"/>
<line x1="401" y1="359.4" x2="401" y2="371.77" stroke="#000" stroke-width="1.3"/>
<line x1="449.3" y1="359.4" x2="449.3" y2="371.77" stroke="#000" stroke-width="1.3"/>
<line x1="518.9" y1="359.4" x2="518.9" y2="371.77" stroke="#000" stroke-width="1.3"/>
<text x="17.8" y="368.5" font-family="'Liberation Sans', sans-serif" font-size="8.3" font-weight="normal" text-anchor="middle" textLength="17.6" lengthAdjust="spacingAndGlyphs" stroke="#000" stroke-width="0.18">1.000</text>
<text x="71.1" y="368.5" font-family="'Liberation Sans', sans-serif" font-size="8.3" font-weight="normal" text-anchor="middle" textLength="17.6" lengthAdjust="spacingAndGlyphs" stroke="#000" stroke-width="0.18">0.001</text>
<text x="144.4" y="368.5" font-family="'Liberation Sans', sans-serif" font-size="8.3" font-weight="normal" text-anchor="middle" textLength="17.6" lengthAdjust="spacingAndGlyphs" stroke="#000" stroke-width="0.18">0.002</text>
<text x="217.7" y="368.5" font-family="'Liberation Sans', sans-serif" font-size="8.3" font-weight="normal" text-anchor="middle" textLength="17.6" lengthAdjust="spacingAndGlyphs" stroke="#000" stroke-width="0.18">0.000</text>
<text x="290.8" y="368.5" font-family="'Liberation Sans', sans-serif" font-size="8.3" font-weight="normal" text-anchor="middle" textLength="17.6" lengthAdjust="spacingAndGlyphs" stroke="#000" stroke-width="0.18">0.022</text>
<text x="364.3" y="368.5" font-family="'Liberation Sans', sans-serif" font-size="8.3" font-weight="normal" text-anchor="middle" textLength="17.6" lengthAdjust="spacingAndGlyphs" stroke="#000" stroke-width="0.18">0.115</text>
<text x="425.45" y="368.5" font-family="'Liberation Sans', sans-serif" font-size="8.3" font-weight="normal" text-anchor="middle" textLength="17.6" lengthAdjust="spacingAndGlyphs" stroke="#000" stroke-width="0.18">0.014</text>
<text x="484.7" y="368.4" font-family="'Liberation Sans', sans-serif" font-size="8.6" font-weight="normal" text-anchor="middle" textLength="14.2" lengthAdjust="spacingAndGlyphs" stroke="#000" stroke-width="0.18">PBS</text>
<line x1="33.6" y1="371.77" x2="519.5" y2="371.77" stroke="#000" stroke-width="1.3"/>
<line x1="33.6" y1="384.14" x2="519.5" y2="384.14" stroke="#000" stroke-width="1.3"/>
<line x1="34.2" y1="371.77" x2="34.2" y2="384.14" stroke="#000" stroke-width="1.3"/>
<line x1="107.4" y1="371.77" x2="107.4" y2="384.14" stroke="#000" stroke-width="1.3"/>
<line x1="180.8" y1="371.77" x2="180.8" y2="384.14" stroke="#000" stroke-width="1.3"/>
<line x1="254" y1="371.77" x2="254" y2="384.14" stroke="#000" stroke-width="1.3"/>
<line x1="327" y1="371.77" x2="327" y2="384.14" stroke="#000" stroke-width="1.3"/>
<line x1="401" y1="371.77" x2="401" y2="384.14" stroke="#000" stroke-width="1.3"/>
<line x1="449.3" y1="371.77" x2="449.3" y2="384.14" stroke="#000" stroke-width="1.3"/>
<line x1="518.9" y1="371.77" x2="518.9" y2="384.14" stroke="#000" stroke-width="1.3"/>
<text x="71.1" y="380.87" font-family="'Liberation Sans', sans-serif" font-size="8.3" font-weight="normal" text-anchor="middle" textLength="17.6" lengthAdjust="spacingAndGlyphs" stroke="#000" stroke-width="0.18">1.000</text>
<text x="144.4" y="380.87" font-family="'Liberation Sans', sans-serif" font-size="8.3" font-weight="normal" text-anchor="middle" textLength="17.6" lengthAdjust="spacingAndGlyphs" stroke="#000" stroke-width="0.18">0.009</text>
<text x="217.7" y="380.87" font-family="'Liberation Sans', sans-serif" font-size="8.3" font-weight="normal" text-anchor="middle" textLength="17.6" lengthAdjust="spacingAndGlyphs" stroke="#000" stroke-width="0.18">0.053</text>
<text x="290.8" y="380.87" font-family="'Liberation Sans', sans-serif" font-size="8.3" font-weight="normal" text-anchor="middle" textLength="17.6" lengthAdjust="spacingAndGlyphs" stroke="#000" stroke-width="0.18">0.001</text>
<text x="364.3" y="380.87" font-family="'Liberation Sans', sans-serif" font-size="8.3" font-weight="normal" text-anchor="middle" textLength="17.6" lengthAdjust="spacingAndGlyphs" stroke="#000" stroke-width="0.18">0.058</text>
<text x="425.45" y="380.87" font-family="'Liberation Sans', sans-serif" font-size="8.3" font-weight="normal" text-anchor="middle" textLength="17.6" lengthAdjust="spacingAndGlyphs" stroke="#000" stroke-width="0.18">0.002</text>
<text x="484.7" y="380.07" font-family="'Liberation Sans', sans-serif" font-size="7.2" font-weight="normal" text-anchor="middle" textLength="55.6" lengthAdjust="spacingAndGlyphs" stroke="#000" stroke-width="0.18">Hu3S193-CalichDMH (4)</text>
<line x1="106.8" y1="384.14" x2="519.5" y2="384.14" stroke="#000" stroke-width="1.3"/>
<line x1="106.8" y1="396.51" x2="519.5" y2="396.51" stroke="#000" stroke-width="1.3"/>
<line x1="107.4" y1="384.14" x2="107.4" y2="396.51" stroke="#000" stroke-width="1.3"/>
<line x1="180.8" y1="384.14" x2="180.8" y2="396.51" stroke="#000" stroke-width="1.3"/>
<line x1="254" y1="384.14" x2="254" y2="396.51" stroke="#000" stroke-width="1.3"/>
<line x1="327" y1="384.14" x2="327" y2="396.51" stroke="#000" stroke-width="1.3"/>
<line x1="401" y1="384.14" x2="401" y2="396.51" stroke="#000" stroke-width="1.3"/>
<line x1="449.3" y1="384.14" x2="449.3" y2="396.51" stroke="#000" stroke-width="1.3"/>
<line x1="518.9" y1="384.14" x2="518.9" y2="396.51" stroke="#000" stroke-width="1.3"/>
<text x="144.4" y="393.24" font-family="'Liberation Sans', sans-serif" font-size="8.3" font-weight="normal" text-anchor="middle" textLength="17.6" lengthAdjust="spacingAndGlyphs" stroke="#000" stroke-width="0.18">1.000</text>
<text x="217.7" y="393.24" font-family="'Liberation Sans', sans-serif" font-size="8.3" font-weight="normal" text-anchor="middle" textLength="17.6" lengthAdjust="spacingAndGlyphs" stroke="#000" stroke-width="0.18">0.001</text>
<text x="290.8" y="393.24" font-family="'Liberation Sans', sans-serif" font-size="8.3" font-weight="normal" text-anchor="middle" textLength="17.6" lengthAdjust="spacingAndGlyphs" stroke="#000" stroke-width="0.18">0.221</text>
<text x="364.3" y="393.24" font-family="'Liberation Sans', sans-serif" font-size="8.3" font-weight="normal" text-anchor="middle" textLength="17.6" lengthAdjust="spacingAndGlyphs" stroke="#000" stroke-width="0.18">0.356</text>
<text x="425.45" y="393.24" font-family="'Liberation Sans', sans-serif" font-size="8.3" font-weight="normal" text-anchor="middle" textLength="17.6" lengthAdjust="spacingAndGlyphs" stroke="#000" stroke-width="0.18">0.665</text>
<text x="484.7" y="392.44" font-family="'Liberation Sans', sans-serif" font-size="7.2" font-weight="normal" text-anchor="middle" textLength="55.6" lengthAdjust="spacingAndGlyphs" stroke="#000" stroke-width="0.18">Hu3S193-CalichDMH (2)</text>
<line x1="180.2" y1="396.51" x2="519.5" y2="396.51" stroke="#000" stroke-width="1.3"/>
<line x1="180.2" y1="408.88" x2="519.5" y2="408.88" stroke="#000" stroke-width="1.3"/>
<line x1="180.8" y1="396.51" x2="180.8" y2="408.88" stroke="#000" stroke-width="1.3"/>
<line x1="254" y1="396.51" x2="254" y2="408.88" stroke="#000" stroke-width="1.3"/>
<line x1="327" y1="396.51" x2="327" y2="408.88" stroke="#000" stroke-width="1.3"/>
<line x1="401" y1="396.51" x2="401" y2="408.88" stroke="#000" stroke-width="1.3"/>
<line x1="449.3" y1="396.51" x2="449.3" y2="408.88" stroke="#000" stroke-width="1.3"/>
<line x1="518.9" y1="396.51" x2="518.9" y2="408.88" stroke="#000" stroke-width="1.3"/>
<text x="217.7" y="405.61" font-family="'Liberation Sans', sans-serif" font-size="8.3" font-weight="normal" text-anchor="middle" textLength="17.6" lengthAdjust="spacingAndGlyphs" stroke="#000" stroke-width="0.18">1.000</text>
<text x="290.8" y="405.61" font-family="'Liberation Sans', sans-serif" font-size="8.3" font-weight="normal" text-anchor="middle" textLength="17.6" lengthAdjust="spacingAndGlyphs" stroke="#000" stroke-width="0.18">0.001</text>
<text x="364.3" y="405.61" font-family="'Liberation Sans', sans-serif" font-size="8.3" font-weight="normal" text-anchor="middle" textLength="17.6" lengthAdjust="spacingAndGlyphs" stroke="#000" stroke-width="0.18">0.022</text>
<text x="425.45" y="405.61" font-family="'Liberation Sans', sans-serif" font-size="8.3" font-weight="normal" text-anchor="middle" textLength="17.6" lengthAdjust="spacingAndGlyphs" stroke="#000" stroke-width="0.18">0.004</text>
<text x="484.7" y="404.81" font-family="'Liberation Sans', sans-serif" font-size="7.2" font-weight="normal" text-anchor="middle" textLength="56.5" lengthAdjust="spacingAndGlyphs" stroke="#000" stroke-width="0.18">Hu3S193-CalichDMH* (4)</text>
<line x1="253.4" y1="408.88" x2="519.5" y2="408.88" stroke="#000" stroke-width="1.3"/>
<line x1="253.4" y1="421.25" x2="519.5" y2="421.25" stroke="#000" stroke-width="1.3"/>
<line x1="254" y1="408.88" x2="254" y2="421.25" stroke="#000" stroke-width="1.3"/>
<line x1="327" y1="408.88" x2="327" y2="421.25" stroke="#000" stroke-width="1.3"/>
<line x1="401" y1="408.88" x2="401" y2="421.25" stroke="#000" stroke-width="1.3"/>
<line x1="449.3" y1="408.88" x2="449.3" y2="421.25" stroke="#000" stroke-width="1.3"/>
<line x1="518.9" y1="408.88" x2="518.9" y2="421.25" stroke="#000" stroke-width="1.3"/>
<text x="290.8" y="417.98" font-family="'Liberation Sans', sans-serif" font-size="8.3" font-weight="normal" text-anchor="middle" textLength="17.6" lengthAdjust="spacingAndGlyphs" stroke="#000" stroke-width="0.18">1.000</text>
<text x="364.3" y="417.98" font-family="'Liberation Sans', sans-serif" font-size="8.3" font-weight="normal" text-anchor="middle" textLength="17.6" lengthAdjust="spacingAndGlyphs" stroke="#000" stroke-width="0.18">0.821</text>
<text x="425.45" y="417.98" font-family="'Liberation Sans', sans-serif" font-size="8.3" font-weight="normal" text-anchor="middle" textLength="17.6" lengthAdjust="spacingAndGlyphs" stroke="#000" stroke-width="0.18">0.453</text>
<text x="484.7" y="417.18" font-family="'Liberation Sans', sans-serif" font-size="7.2" font-weight="normal" text-anchor="middle" textLength="53.2" lengthAdjust="spacingAndGlyphs" stroke="#000" stroke-width="0.18">Rituxan-CalichDMH (4)</text>
<line x1="326.4" y1="421.25" x2="519.5" y2="421.25" stroke="#000" stroke-width="1.3"/>
<line x1="326.4" y1="433.62" x2="519.5" y2="433.62" stroke="#000" stroke-width="1.3"/>
<line x1="327" y1="421.25" x2="327" y2="433.62" stroke="#000" stroke-width="1.3"/>
<line x1="401" y1="421.25" x2="401" y2="433.62" stroke="#000" stroke-width="1.3"/>
<line x1="449.3" y1="421.25" x2="449.3" y2="433.62" stroke="#000" stroke-width="1.3"/>
<line x1="518.9" y1="421.25" x2="518.9" y2="433.62" stroke="#000" stroke-width="1.3"/>
<text x="364.3" y="430.35" font-family="'Liberation Sans', sans-serif" font-size="8.3" font-weight="normal" text-anchor="middle" textLength="17.6" lengthAdjust="spacingAndGlyphs" stroke="#000" stroke-width="0.18">1.000</text>
<text x="425.45" y="430.35" font-family="'Liberation Sans', sans-serif" font-size="8.3" font-weight="normal" text-anchor="middle" textLength="17.6" lengthAdjust="spacingAndGlyphs" stroke="#000" stroke-width="0.18">0.543</text>
<text x="484.7" y="429.55" font-family="'Liberation Sans', sans-serif" font-size="7.2" font-weight="normal" text-anchor="middle" textLength="53.2" lengthAdjust="spacingAndGlyphs" stroke="#000" stroke-width="0.18">Rituxan-CalichDMH (2)</text>
<line x1="400.4" y1="433.62" x2="519.5" y2="433.62" stroke="#000" stroke-width="1.3"/>
<line x1="400.4" y1="445.99" x2="519.5" y2="445.99" stroke="#000" stroke-width="1.3"/>
<line x1="401" y1="433.62" x2="401" y2="445.99" stroke="#000" stroke-width="1.3"/>
<line x1="449.3" y1="433.62" x2="449.3" y2="445.99" stroke="#000" stroke-width="1.3"/>
<line x1="518.9" y1="433.62" x2="518.9" y2="445.99" stroke="#000" stroke-width="1.3"/>
<text x="425.45" y="442.72" font-family="'Liberation Sans', sans-serif" font-size="8.3" font-weight="normal" text-anchor="middle" textLength="17.6" lengthAdjust="spacingAndGlyphs" stroke="#000" stroke-width="0.18">1.000</text>
<text x="484.7" y="442.62" font-family="'Liberation Sans', sans-serif" font-size="8.6" font-weight="normal" text-anchor="middle" textLength="40.6" lengthAdjust="spacingAndGlyphs" stroke="#000" stroke-width="0.18">CMA-676 (4)</text>
</svg>
</body></html>
